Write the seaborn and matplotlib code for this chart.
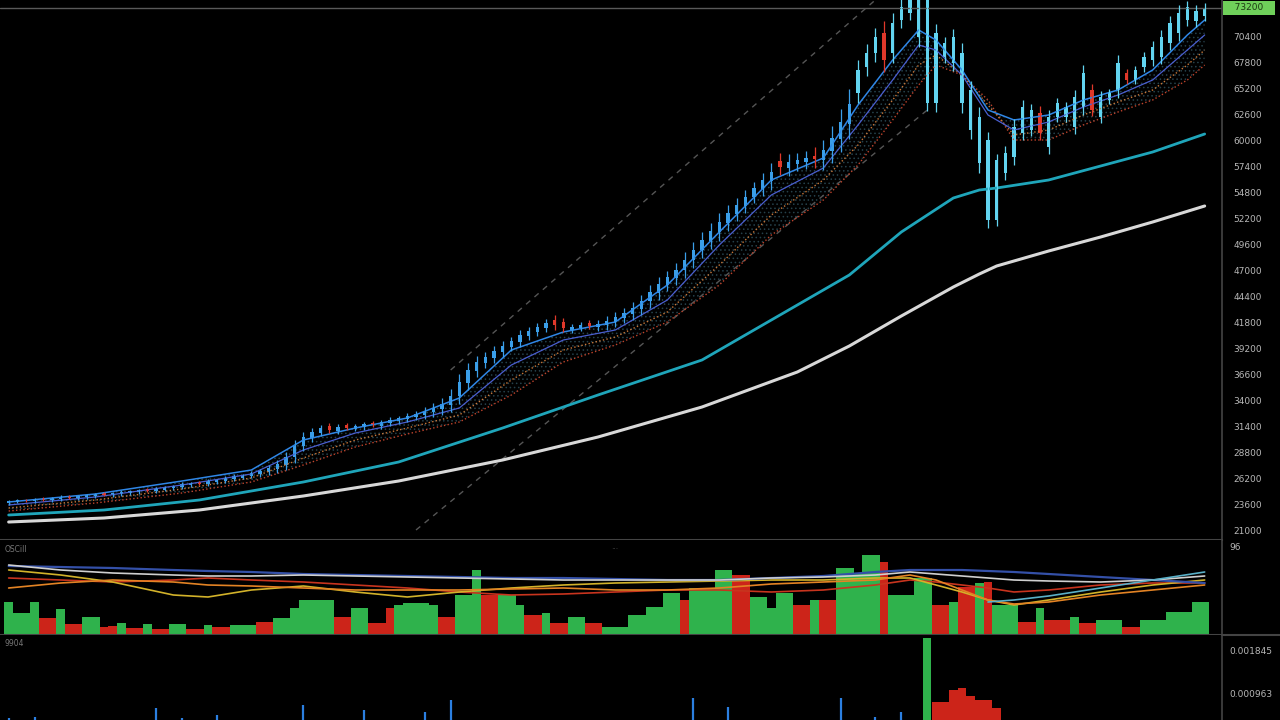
import numpy as np
import matplotlib
matplotlib.use("Agg")
import matplotlib.pyplot as plt
import seaborn as sns
from matplotlib.lines import Line2D

# ==============================================================
# Données
# ==============================================================

# bougies : clôtures, corps (clôture - ouverture) et mèches
closes_left = [
    23900, 24000, 23950, 24100, 24050, 24200, 24300, 24250, 24400, 24500,
    24600, 24550, 24700, 24800, 24900, 25000, 24950, 25150, 25300, 25400,
    25600, 25700, 25650, 25900, 26000, 26200, 26400, 26500, 26700, 26900,
    27200, 27600, 28300, 29400, 30300, 30800, 31200, 31000, 31300, 31200,
    31400, 31600, 31500, 31800, 32000, 32200, 32400, 32600, 32900, 33200,
    33600, 34400, 35800, 37000, 37800, 38300, 38900, 39400, 39900, 40500,
    40900, 41300, 41700, 41500, 41200, 41300, 41500, 41400, 41600, 41900,
    42300, 42700, 43200, 43900, 44800, 45600, 46300, 47000, 48000, 49000,
    50000, 50900, 51800, 52700, 53500, 54300, 55200, 56000, 56800, 57300,
    57800, 58000, 58200, 58100, 59000, 60200, 61800, 63600]
closes_right = [
    67000, 68700, 70300, 68000, 71700, 73300, 74000, 74000, 74000, 70700,
    69700, 70300, 68700, 65000, 62300, 60000, 58000, 58700, 61300, 63300,
    63000, 60700, 62300, 63700, 63300, 64300, 66700, 63000, 64300, 64700,
    67700, 66000, 67000, 68300, 69300, 70300, 71700, 72700, 73300, 72900,
    73200]
bodies_left = [
    200, 150, -100, 200, -150, 200, 200, -150, 200, 200,
    200, -150, 200, 200, 200, 200, -150, 250, 250, 200,
    250, 200, -150, 300, 200, 300, 300, 250, 300, 300,
    400, 500, 800, 1100, 900, 600, 500, -400, 400, -300,
    300, 300, -200, 400, 300, 300, 300, 300, 400, 400,
    500, 900, 1400, 1300, 900, 600, 700, 600, 600, 700,
    500, 500, 500, -500, -600, 300, 300, -300, 300, 400,
    500, 500, 600, 800, 900, 900, 800, 800, 1000, 1000,
    1000, 1000, 1000, 1000, 900, 900, 900, 900, 900, -600,
    600, 400, 400, -300, 1000, 1300, 1700, 2000]
bodies_right = [
    2300, 1400, 1600, -2700, 3000, 1300, 1300, 3700, 10300, 7000,
    1400, 2600, 5000, 4000, 4600, 8000, 6000, 2000, 3000, 2600,
    2000, -2000, 3000, 1400, 1000, 3000, 3400, -2000, 2000, 700,
    2700, -700, 1000, 1000, 1300, 2000, 2000, 2000, 1300, 1000,
    800]
wicks = [
    150, 150, 100, 150, 100, 150, 200, 100, 150, 150,
    150, 100, 150, 200, 150, 150, 100, 200, 150, 150,
    200, 150, 100, 200, 150, 200, 200, 150, 200, 250,
    300, 400, 500, 600, 500, 400, 300, 300, 300, 200,
    200, 250, 200, 250, 300, 250, 300, 300, 400, 500,
    600, 700, 800, 700, 600, 500, 500, 500, 400, 500,
    400, 400, 400, 500, 400, 300, 300, 300, 400, 500,
    500, 500, 600, 600, 700, 700, 600, 700, 800, 800,
    800, 800, 900, 800, 700, 700, 600, 700, 900, 800,
    800, 700, 700, 900, 1000, 1200, 1300, 1500, 1000, 900,
    900, 1200, 1000, 800, 700, 1000, 800, 900, 600, 800,
    1000, 900, 1000, 800, 600, 700, 800, 700, 600, 700,
    700, 500, 500, 700, 800, 600, 600, 400, 800, 400,
    400, 500, 600, 700, 700, 800, 600, 600, 500]

# ruban de moyennes mobiles
ribbon_x = [0, 10, 20, 28, 34, 40, 46, 52, 58, 64, 70, 76, 82, 88, 94, 98,
            102, 105, 107, 110, 113, 116, 120, 124, 128, 132, 136, 138]
ribbon_1 = [23800, 24600, 25900, 27000, 30000, 31200, 32200, 34200, 39000, 40800,
            41800, 45500, 50800, 56000, 58200, 63500, 68000, 71000, 70000, 67000,
            63000, 62000, 62500, 64000, 65000, 67000, 70500, 72000]
ribbon_2 = [23500, 24300, 25500, 26600, 29000, 30700, 31800, 33200, 37500, 40000,
            41000, 44000, 49500, 54500, 57200, 61500, 66000, 69500, 69000, 66500,
            62500, 61000, 61800, 63300, 64500, 66000, 69000, 70500]
ribbon_3 = [23200, 24000, 25100, 26200, 28200, 30000, 31200, 32500, 36000, 39000,
            40300, 42800, 47500, 52500, 56000, 59500, 64000, 67500, 68500, 66500,
            63500, 60500, 61000, 62500, 63800, 65000, 67500, 69000]
ribbon_4 = [22900, 23700, 24700, 25800, 27500, 29300, 30600, 31800, 34500, 37800,
            39500, 41800, 45500, 50500, 54000, 57500, 62000, 65500, 67500, 66500,
            64000, 60000, 60000, 61500, 62800, 64000, 66000, 67500]

# moyennes longues
ma_x = [0, 11, 22, 34, 45, 57, 68, 80, 91, 97, 103, 109, 112, 114, 120, 126, 132, 138]
ma_teal = [22500, 23000, 24000, 25800, 27800, 31200, 34500, 38000, 43500, 46500,
           50800, 54200, 55000, 55200, 56000, 57400, 58800, 60600]
ma_white = [21800, 22200, 23000, 24400, 25900, 28000, 30300, 33300, 36800, 39400,
            42400, 45300, 46600, 47400, 48900, 50300, 51800, 53400]

# canal (lignes pointillées)
chan_lo_x = [47, 106]
chan_lo_y = [21000, 63000]
chan_hi_x = [51, 100]
chan_hi_y = [37000, 74000]

price_ticks = list(range(21000, 71000, 2600))

# oscillateur : histogramme + lignes
osc_hist = [
    33, 22, 22, 33, 17, 17, 26, 11, 11, 18,
    18, 8, 9, 12, 7, 7, 11, 6, 6, 11,
    11, 6, 6, 10, 8, 8, 10, 10, 10, 13,
    13, 17, 17, 27, 35, 35, 35, 35, 18, 18,
    27, 27, 12, 12, 27, 30, 32, 32, 32, 30,
    18, 18, 40, 40, 65, 40, 40, 40, 40, 30,
    20, 20, 22, 12, 12, 18, 18, 12, 12, 8,
    8, 8, 20, 20, 28, 28, 42, 42, 35, 47,
    47, 47, 65, 65, 60, 60, 38, 38, 27, 42,
    42, 30, 30, 35, 35, 35, 67, 67, 62, 80,
    80, 73, 40, 40, 40, 57, 57, 30, 30, 33,
    48, 48, 52, 53, 30, 30, 30, 13, 13, 27,
    15, 15, 15, 18, 12, 12, 15, 15, 15, 8,
    8, 15, 15, 15, 23, 23, 23, 33, 33]
osc_up = [
    1, 1, 1, 1, 0, 0, 1, 0, 0, 1,
    1, 0, 0, 1, 0, 0, 1, 0, 0, 1,
    1, 0, 0, 1, 0, 0, 1, 1, 1, 0,
    0, 1, 1, 1, 1, 1, 1, 1, 0, 0,
    1, 1, 0, 0, 0, 1, 1, 1, 1, 1,
    0, 0, 1, 1, 1, 0, 0, 1, 1, 1,
    0, 0, 1, 0, 0, 1, 1, 0, 0, 1,
    1, 1, 1, 1, 1, 1, 1, 1, 0, 1,
    1, 1, 1, 1, 0, 0, 1, 1, 1, 1,
    1, 0, 0, 1, 0, 0, 1, 1, 1, 1,
    1, 0, 1, 1, 1, 1, 1, 0, 0, 1,
    0, 0, 1, 0, 1, 1, 1, 0, 0, 1,
    0, 0, 0, 1, 0, 0, 1, 1, 1, 0,
    0, 1, 1, 1, 1, 1, 1, 1, 1]
osc_x = [0, 6, 12, 19, 23, 28, 34, 40, 46, 52, 58, 64, 70, 76, 82, 88, 94,
         100, 104, 107, 110, 113, 116, 120, 126, 132, 138]
osc_navy = [69, 68, 67, 65, 64, 63, 61, 60, 59, 58, 57, 57, 56, 55, 55, 57, 59,
            63, 65, 65, 65, 64, 63, 61, 58, 55, 52]
osc_white = [70, 65, 62, 60, 59, 59, 60, 59, 58, 57, 56, 55, 55, 55, 55, 57, 58,
             60, 63, 61, 59, 57, 55, 54, 53, 55, 59]
osc_orange = [47, 52, 55, 53, 50, 49, 47, 45, 45, 45, 46, 47, 45, 45, 47, 51, 53,
              55, 60, 55, 45, 35, 31, 33, 40, 45, 50]
osc_yellow = [65, 60, 53, 40, 38, 45, 49, 43, 38, 43, 47, 50, 52, 53, 54, 55, 55,
              57, 57, 50, 43, 35, 30, 35, 43, 50, 55]
osc_red = [57, 55, 53, 55, 57, 55, 53, 50, 47, 43, 40, 41, 43, 45, 45, 43, 45,
           50, 55, 53, 50, 47, 43, 45, 50, 52, 52]
tail_x = [113, 116, 120, 126, 132, 138]
osc_tail = [33, 35, 39, 47, 55, 63]

# panneau du bas : pics bleus et barres
spike_x = [0, 3, 17, 20, 24, 34, 41, 48, 51, 79, 83, 96, 100, 103]
spike_h = [2, 3, 12, 2, 5, 15, 10, 8, 20, 22, 13, 22, 3, 8]
sig_x = [106, 107, 108, 109, 110, 111, 112, 113, 114]
sig_h = [82, 18, 18, 30, 32, 24, 20, 20, 12]
sig_up = [1, 0, 0, 0, 0, 0, 0, 0, 0]

# ==============================================================
# Style
# ==============================================================
sns.set_theme(style="dark", rc={"axes.facecolor": "black", "figure.facecolor": "black"})
plt.rcParams['font.family'] = ['DejaVu Sans']
plt.rcParams['hatch.linewidth'] = 0.6

UP_OLD = '#3a9ee8'   # bougies haussières (partie gauche, plus bleues)
UP_NEW = '#62d4f0'   # bougies haussières (partie droite, plus cyan)
DOWN = '#e0382a'
GREEN = '#2fb24c'
RED = '#cc2419'
GRID = '#444444'
TXT = '#b8b8b8'

closes = np.array(closes_left + closes_right)
bodies = np.array(bodies_left + bodies_right)
opens = closes - bodies
bar_x = np.arange(len(closes))
highs = np.maximum(opens, closes) + np.array(wicks)
lows = np.minimum(opens, closes) - np.array(wicks)
up_cols = np.where(bar_x < len(closes_left), UP_OLD, UP_NEW)
cols = np.where(bodies >= 0, up_cols, DOWN)

fig = plt.figure(figsize=(12.8, 7.2), dpi=100, facecolor='black')
W = 1222 / 1280
ax = fig.add_axes([0, 180 / 720, W, 540 / 720])
ax_osc = fig.add_axes([0, 85 / 720, W, 95 / 720])
ax_sig = fig.add_axes([0, 0, W, 85 / 720])

for a in (ax, ax_osc, ax_sig):
    a.set_facecolor('black')
    a.set_xlim(-1, 140)
    a.grid(False)
    for s in ('left', 'top'):
        a.spines[s].set_visible(False)
    a.spines['right'].set_color(GRID)
    a.spines['right'].set_linewidth(1.2)
    a.spines['bottom'].set_color(GRID)
    a.spines['bottom'].set_linewidth(1.5)
    a.set_xticks([])

# ==============================================================
# Panneau principal
# ==============================================================
ax.set_ylim(20000, 74000)

ax.axhline(closes[-1], color='#5a5a5a', lw=1)
sns.lineplot(x=chan_lo_x, y=chan_lo_y, ax=ax, color='#555555', lw=1, linestyle=(0, (4, 4)))
sns.lineplot(x=chan_hi_x, y=chan_hi_y, ax=ax, color='#555555', lw=1, linestyle=(0, (4, 4)))

sns.lineplot(x=ma_x, y=ma_white, ax=ax, color='#d8d8d8', lw=2.2)
sns.lineplot(x=ma_x, y=ma_teal, ax=ax, color='#1fa5ba', lw=2)

ax.fill_between(ribbon_x, ribbon_4, ribbon_1, facecolor='none', edgecolor='#25404a',
                hatch='....', linewidth=0)
sns.lineplot(x=ribbon_x, y=ribbon_4, ax=ax, color='#c0442c', lw=1, linestyle=':')
sns.lineplot(x=ribbon_x, y=ribbon_3, ax=ax, color='#c8783a', lw=1, linestyle=':')
sns.lineplot(x=ribbon_x, y=ribbon_2, ax=ax, color='#4a5fd0', lw=0.9)
sns.lineplot(x=ribbon_x, y=ribbon_1, ax=ax, color='#2f86e6', lw=1.1)

ax.vlines(bar_x, lows, highs, colors=cols, lw=0.9)
ax.bar(bar_x, np.abs(bodies), bottom=np.minimum(opens, closes), width=0.42,
       color=cols, edgecolor='none')

ax.yaxis.tick_right()
ax.set_yticks(price_ticks)
ax.set_yticklabels([str(t) for t in price_ticks])
ax.tick_params(axis='y', length=0, pad=8, labelsize=6.5, labelcolor=TXT)
ax.set_ylabel('')
ax.set_xlabel('')

ax.annotate(f"   {closes[-1]}   ", xy=(1, closes[-1]), xycoords=('axes fraction', 'data'),
            xytext=(3, 0), textcoords='offset points', ha='left', va='center',
            fontsize=6.5, color='#1c3a12',
            bbox=dict(boxstyle='square,pad=0.3', fc='#6fd05a', ec='none'))

# ==============================================================
# Oscillateur
# ==============================================================
ax_osc.set_ylim(0, 95)
ax_osc.set_yticks([])
ax_osc.bar(bar_x, osc_hist, width=1.0, color=[GREEN if u else RED for u in osc_up],
           edgecolor='none')
sns.lineplot(x=osc_x, y=osc_red, ax=ax_osc, color='#c8341e', lw=1.2)
sns.lineplot(x=osc_x, y=osc_yellow, ax=ax_osc, color='#d2b22a', lw=1.2)
sns.lineplot(x=osc_x, y=osc_orange, ax=ax_osc, color='#e38324', lw=1.2)
sns.lineplot(x=osc_x, y=osc_navy, ax=ax_osc, color='#3450a8', lw=1.6)
sns.lineplot(x=osc_x, y=osc_white, ax=ax_osc, color='#cfcfcf', lw=1.2)
sns.lineplot(x=tail_x, y=osc_tail, ax=ax_osc, color='#5ab0c8', lw=1.2)
ax_osc.set_ylabel('')
ax_osc.text(0.004, 0.9, "OSCill", transform=ax_osc.transAxes, fontsize=5.5,
            color='#777777', va='center')
ax_osc.text(0.5, 0.9, "···", transform=ax_osc.transAxes, fontsize=5.5,
            color='#555555', va='center')
ax_osc.text(1.006, 0.92, "96", transform=ax_osc.transAxes, fontsize=6.5,
            color=TXT, va='center')

# ==============================================================
# Panneau du bas
# ==============================================================
ax_sig.set_ylim(0, 85)
ax_sig.set_yticks([])
ax_sig.spines['bottom'].set_visible(False)
ax_sig.vlines(spike_x, 0, spike_h, colors='#2b7fe0', lw=1.6)
ax_sig.bar(sig_x, sig_h, width=[0.9] + [1.0] * (len(sig_x) - 1),
           color=[GREEN if u else RED for u in sig_up], edgecolor='none')
ax_sig.text(0.004, 0.9, "9904", transform=ax_sig.transAxes, fontsize=5.5,
            color='#777777', va='center')
ax_sig.text(1.006, 0.8, "0.001845", transform=ax_sig.transAxes, fontsize=6.5,
            color=TXT, va='center')
ax_sig.text(1.006, 0.3, "0.000963", transform=ax_sig.transAxes, fontsize=6.5,
            color=TXT, va='center')

fig.add_artist(Line2D([W, 1], [85 / 720, 85 / 720], color=GRID, lw=1.5,
                      transform=fig.transFigure))

fig.savefig("out.png", dpi=100, facecolor='black')
